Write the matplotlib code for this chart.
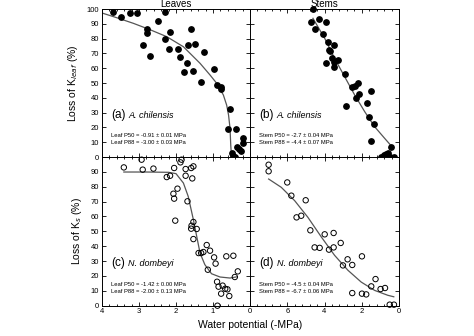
import matplotlib
matplotlib.use("Agg")
import matplotlib.pyplot as plt
from matplotlib.ticker import MultipleLocator

plt.rcParams['font.family'] = ['Liberation Sans', 'DejaVu Sans']

# Panel (a) A. chilensis leaves
a_x = [3.69, 3.50, 3.24, 3.05, 2.79, 2.79, 2.90, 2.70, 2.50, 2.29, 2.29, 2.15, 2.20,
       1.95, 1.89, 1.68, 1.59, 1.49, 1.69, 1.79, 1.54, 1.33, 1.23, 0.98, 0.89, 0.79,
       0.78, 0.53, 0.59, 0.38, 0.49, 0.45, 0.40, 0.34, 0.29, 0.24, 0.18, 0.18]
a_y = [98.2, 94.4, 97.3, 97.1, 86.5, 83.6, 75.7, 68.5, 91.9, 98.2, 79.5, 84.5, 73.0,
       72.7, 67.8, 75.7, 86.3, 76.6, 63.3, 57.2, 58.1, 50.5, 71.2, 59.7, 48.6, 47.5,
       45.9, 32.7, 18.7, 18.7, 2.5, 0.9, 0.2, 6.5, 5.4, 4.0, 9.2, 12.6]
a_fit_x = [4.0, 3.6, 3.15, 2.70, 2.25, 1.80, 1.35, 1.08, 0.90, 0.72, 0.63, 0.58, 0.54, 0.52, 0.50]
a_fit_y = [97.3, 94.1, 90.3, 86.0, 81.3, 74.5, 63.3, 55.4, 49.8, 41.9, 35.0, 28.4, 19.4, 8.0, 0.0]

# Panel (b) A. chilensis stems
b_x = [4.62, 4.71, 4.49, 4.30, 3.90, 4.08, 3.80, 3.49, 3.76, 3.69, 3.60, 3.49, 3.30,
       3.49, 3.94, 2.92, 2.53, 2.35, 2.20, 2.15, 2.29, 2.87, 1.70, 1.51, 1.61, 1.36,
       1.49, 0.41, 0.95, 0.83, 0.72, 0.59, 0.50, 0.29]
b_y = [100.0, 91.0, 86.7, 93.5, 91.0, 82.9, 77.7, 75.7, 72.3, 71.4, 66.7, 64.4, 65.5,
       60.8, 63.3, 55.9, 47.5, 48.0, 50.0, 42.8, 39.6, 34.2, 36.7, 44.8, 26.8, 22.3,
       10.8, 7.0, 0.2, 1.4, 2.0, 2.5, 0.2, 0.2]
b_fit_x = [4.62, 3.99, 3.46, 2.92, 2.38, 1.84, 1.31, 0.77, 0.38]
b_fit_y = [93.7, 80.2, 66.7, 54.3, 41.9, 30.6, 20.5, 12.6, 7.0]

# Panel (c) N. dombeyi leaves
c_x = [3.41, 2.93, 2.90, 2.61, 2.25, 2.16, 2.05, 1.85, 1.88, 1.74, 1.59, 1.53, 1.74,
       1.56, 2.07, 2.05, 1.96, 1.69, 2.02, 1.58, 1.53, 1.59, 1.44, 1.53, 1.39, 1.32,
       1.26, 1.17, 1.08, 0.97, 0.93, 1.14, 0.64, 0.45, 0.33, 0.41, 0.89, 0.85, 0.74,
       0.67, 0.61, 0.78, 0.56, 0.88]
c_y = [93.0, 98.2, 91.5, 92.2, 86.5, 87.4, 92.6, 98.2, 96.4, 91.9, 92.6, 93.7, 87.4,
       85.6, 75.3, 72.0, 78.7, 70.2, 57.2, 53.8, 56.3, 51.8, 51.6, 44.8, 35.4, 35.4,
       36.1, 40.8, 37.0, 32.5, 28.3, 24.2, 33.2, 33.6, 23.1, 19.3, 16.1, 12.8, 13.5,
       11.4, 11.0, 8.1, 6.5, 0.0]
c_fit_x = [3.41, 2.80, 2.20, 2.00, 1.80, 1.67, 1.53, 1.44, 1.35, 1.22, 1.04, 0.81, 0.54, 0.36]
c_fit_y = [89.9, 89.9, 89.7, 88.8, 82.5, 73.5, 57.8, 46.6, 35.4, 27.6, 21.5, 19.3, 18.6, 19.4]

# Panel (d) N. dombeyi stems
d_x = [7.0, 7.0, 6.0, 5.78, 5.01, 5.50, 5.25, 4.76, 3.99, 3.51, 4.53, 4.26, 3.76,
       3.51, 3.13, 2.76, 3.01, 2.51, 1.99, 2.51, 1.99, 1.76, 1.49, 1.26, 0.99, 0.75,
       0.50, 0.27]
d_y = [94.8, 90.4, 82.9, 74.0, 70.9, 59.4, 60.5, 50.7, 48.0, 48.9, 39.2, 38.9, 37.7,
       39.2, 42.2, 31.2, 27.1, 27.4, 33.2, 8.5, 8.1, 7.6, 13.0, 17.9, 11.2, 11.9,
       0.7, 0.7]
d_fit_x = [7.0, 6.32, 5.60, 4.89, 4.17, 3.46, 2.74, 2.03, 1.31, 0.60, 0.28]
d_fit_y = [85.2, 79.6, 70.6, 59.4, 46.2, 33.9, 23.8, 15.9, 10.3, 7.0, 6.0]

labels = [("(a)", "A. chilensis", ["Leaf P50 = -0.91 \u00b1 0.01 MPa", "Leaf P88 = -3.00 \u00b1 0.03 MPa"]),
          ("(b)", "A. chilensis", ["Stem P50 = -2.7 \u00b1 0.04 MPa", "Stem P88 = -4.4 \u00b1 0.07 MPa"]),
          ("(c)", "N. dombeyi", ["Leaf P50 = -1.42 \u00b1 0.00 MPa", "Leaf P88 = -2.00 \u00b1 0.13 MPa"]),
          ("(d)", "N. dombeyi", ["Stem P50 = -4.5 \u00b1 0.04 MPa", "Stem P88 = -6.7 \u00b1 0.06 MPa"])]

W, H = 474, 336
fig = plt.figure(figsize=(W / 100, H / 100), dpi=100)

def ax_at(x0, y0, x1, y1):
    return fig.add_axes([x0 / W, 1 - y1 / H, (x1 - x0) / W, (y1 - y0) / H])

axa = ax_at(102, 9, 250, 157)
axb = ax_at(250, 9, 399, 157)
axc = ax_at(102, 157, 250, 305.7)
axd = ax_at(250, 157, 399, 305.7)

data = [(axa, a_x, a_y, a_fit_x, a_fit_y, True, 4),
        (axb, b_x, b_y, b_fit_x, b_fit_y, True, 8),
        (axc, c_x, c_y, c_fit_x, c_fit_y, False, 4),
        (axd, d_x, d_y, d_fit_x, d_fit_y, False, 8)]

for i, (ax, x, y, fx, fy, filled, xmax) in enumerate(data):
    ax.plot(fx, fy, color='#555555', lw=0.9, zorder=2)
    if filled:
        ax.scatter(x, y, s=15, color='black', zorder=3, clip_on=False)
    else:
        ax.scatter(x, y, s=15, facecolors='none', edgecolors='black', linewidths=0.7,
                   zorder=3, clip_on=False)
    ax.set_xlim(xmax, 0)
    ax.set_ylim(0, 100)
    ax.xaxis.set_major_locator(MultipleLocator(1 if xmax == 4 else 2))
    ax.xaxis.set_minor_locator(MultipleLocator(0.2 if xmax == 4 else 0.4))
    ax.yaxis.set_major_locator(MultipleLocator(10))
    ax.tick_params(which='both', direction='in', top=True, right=True,
                   labelsize=5.5, width=0.6, pad=2)
    ax.tick_params(which='major', length=3)
    ax.tick_params(which='minor', length=1.5)
    for s in ax.spines.values():
        s.set_linewidth(0.7)
    lab, sp, txt = labels[i]
    ax.text(0.06, 0.265, lab, transform=ax.transAxes, fontsize=8.5, va='baseline')
    ax.text(0.178, 0.265, sp, transform=ax.transAxes, fontsize=6.5, style='italic', va='baseline')
    ax.text(0.06, 0.135, txt[0], transform=ax.transAxes, fontsize=4.2, va='baseline')
    ax.text(0.06, 0.085, txt[1], transform=ax.transAxes, fontsize=4.2, va='baseline')

for ax in (axa, axb):
    ax.tick_params(labelbottom=False)
for ax in (axb, axd):
    ax.tick_params(labelleft=False)

axc.set_yticks(range(0, 101, 10))
axc.set_yticklabels([str(v) for v in range(0, 100, 10)] + [""])
axd.set_xticks([8, 6, 4, 2, 0])
axd.set_xticklabels(["", "6", "4", "2", "0"])

axa.set_title("Leaves", fontsize=7, pad=1)
axb.set_title("Stems", fontsize=7, pad=1)
axa.set_ylabel("Loss of K$_{\\mathit{leaf}}$ (%)", fontsize=7.5, labelpad=5)
axc.set_ylabel("Loss of K$_{\\mathit{s}}$ (%)", fontsize=7.5, labelpad=5)
fig.text(250 / W, 1 - 325 / H, "Water potential (-MPa)", ha='center', va='center', fontsize=7.5)

fig.savefig("out.png", dpi=100)
